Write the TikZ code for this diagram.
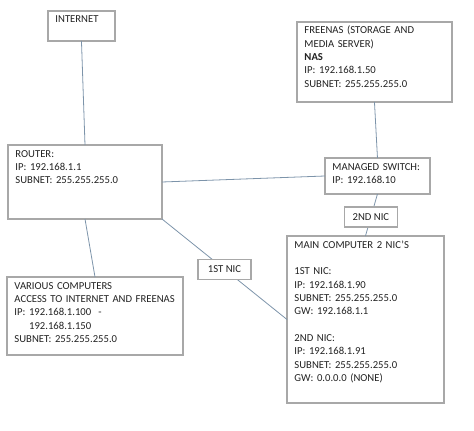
\documentclass[tikz,border=0pt]{standalone}
\usepackage{fontspec}
\setmainfont{Carlito}
\usetikzlibrary{positioning}
\definecolor{boxgray}{RGB}{168,168,168}
\definecolor{linkcolor}{RGB}{125,148,170}
\definecolor{labelcolor}{RGB}{35,35,35}

\begin{document}
\begin{tikzpicture}[
  x=0.75pt, y=-0.75pt,
  font=\fontsize{8}{10}\selectfont,
  every node/.style={text=labelcolor},
  netbox/.style={
    draw=boxgray, line width=1.1pt, fill=white, anchor=north west,
    align=left, inner xsep=5.6pt, inner ysep=3pt, outer sep=0pt,
    text height=6pt
  },
  nicbox/.style={
    draw=boxgray, line width=1.1pt, fill=white, outer sep=0pt,
    minimum width=39.75pt, minimum height=15pt, inner sep=0pt,
    text height=5.5pt, text depth=1pt
  },
  link/.style={draw=linkcolor, line width=0.6pt},
]

\useasboundingbox (0,0) rectangle (474,431);

%% ─── Boxes ───────────────────────────────────────────────────────────────────

\node[netbox, text width=39pt, text depth=10.5pt] (internet) at (48,11) {INTERNET};

\node[netbox, text width=105pt, text depth=48pt] (freenas) at (297,22) {
  FREENAS (STORAGE AND\\
  MEDIA SERVER)\\
  \textbf{NAS}\\
  IP: 192.168.1.50\\
  SUBNET: 255.255.255.0
};

\node[netbox, text width=104.3pt, text depth=43.5pt] (router) at (8,145) {
  ROUTER:\\
  IP: 192.168.1.1\\
  SUBNET: 255.255.255.0
};

\node[netbox, text width=67.5pt, text depth=15pt] (switch) at (325,158) {
  MANAGED SWITCH:\\
  IP: 192.168.10
};

\node[netbox, text width=106.5pt, text depth=113.25pt] (maincomp) at (287,236) {
  MAIN COMPUTER 2 NIC'S\\[10pt]
  1ST NIC:\\
  IP: 192.168.1.90\\
  SUBNET: 255.255.255.0\\
  GW: 192.168.1.1\\[10pt]
  2ND NIC:\\
  IP: 192.168.1.91\\
  SUBNET: 255.255.255.0\\
  GW: 0.0.0.0 (NONE)
};

\node[netbox, text width=120.8pt, text depth=46.5pt] (various) at (7,277) {
  VARIOUS COMPUTERS\\
  ACCESS TO INTERNET AND FREENAS\\
  IP: 192.168.1.100~~-\\
  \hspace*{11pt}192.168.1.150\\
  SUBNET: 255.255.255.0
};

%% ─── Links (NIC boxes sit on their cables) ───────────────────────────────────

\draw[link] (internet.south) -- (router.north);
\draw[link] (freenas.south) -- (switch.north);
\draw[link] (router.east) -- (switch.west);
\draw[link] (router.south) -- (various.north);

\draw[link] (switch.south) -- node[nicbox, pos=0.55] (nic2) {2ND NIC} (maincomp.north);
\draw[link] (router.south east) -- node[nicbox] (nic1) {1ST NIC} (maincomp.west);

\end{tikzpicture}
\end{document}
